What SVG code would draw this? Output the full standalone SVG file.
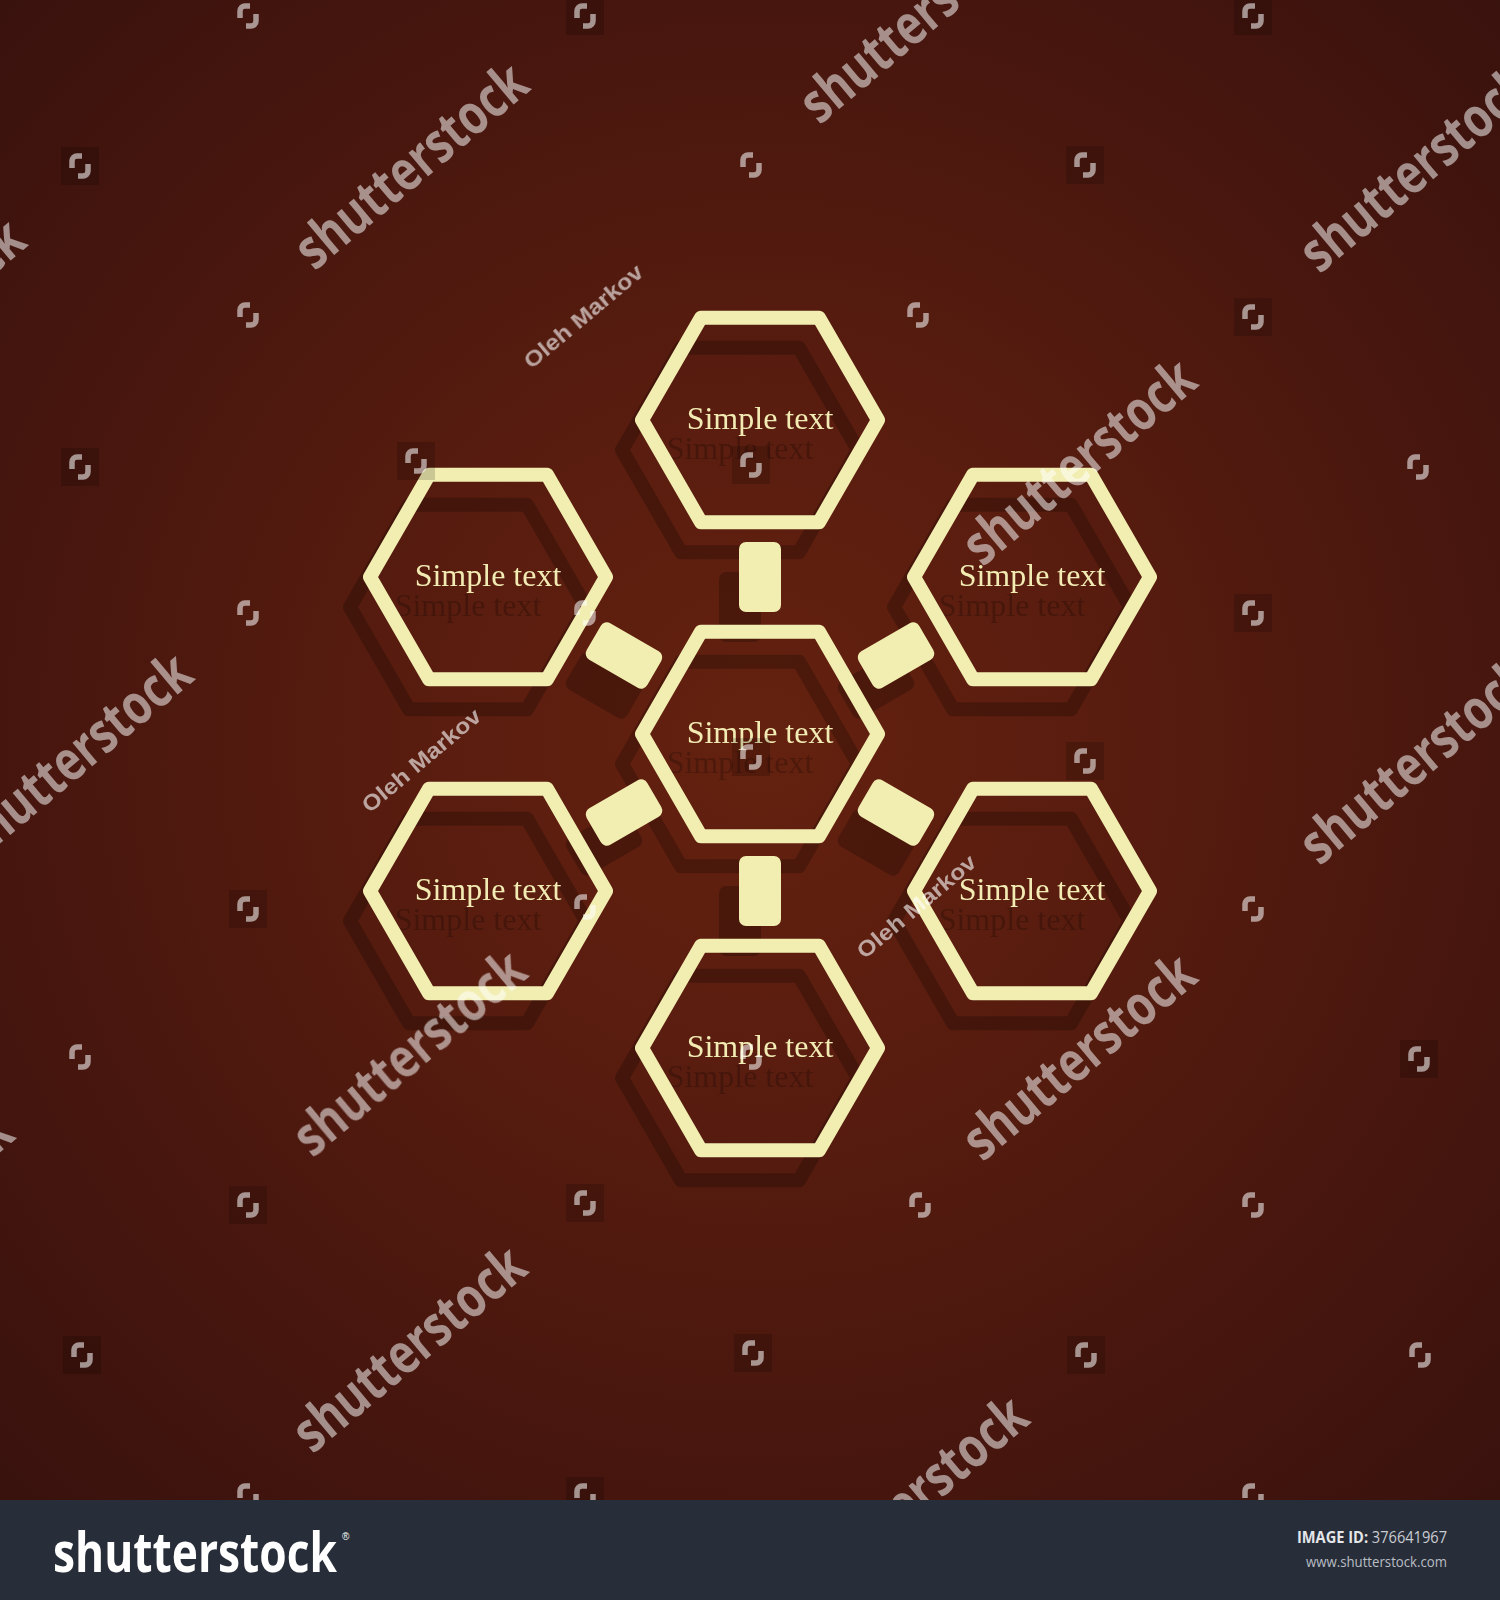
<svg xmlns="http://www.w3.org/2000/svg" xmlns:xlink="http://www.w3.org/1999/xlink" width="1500" height="1600" viewBox="0 0 1500 1600">
  <style>
    .hex { fill: none; stroke: #f2eeb2; stroke-width: 14; stroke-linejoin: round; }
    .shex { fill: none; stroke: #000; stroke-width: 14; stroke-linejoin: round; }
    .lbl { font-family: "Liberation Serif", "Times New Roman", serif; font-size: 32px; fill: #f2ecb4; text-anchor: middle; }
    .slbl { font-family: "Liberation Serif", "Times New Roman", serif; font-size: 32px; fill: #000; text-anchor: middle; }
    .con { fill: #f2eeb2; }
    .scon { fill: #000; }
    .wm { font-family: "Open Sans", "DejaVu Sans", sans-serif; font-weight: 700; font-size: 56px; fill: #ffffff; fill-opacity: 0.52; text-anchor: middle; }
    .wmr { font-family: "Open Sans", "DejaVu Sans", sans-serif; font-size: 10px; fill: #ffffff; fill-opacity: 0.52; }
    .om { font-family: "Liberation Sans", Arial, sans-serif; font-weight: 700; font-size: 22px; fill: #ffffff; fill-opacity: 0.6; text-anchor: middle; }
    .icb { fill: #000; fill-opacity: 0.16; }
    .icp { fill: none; stroke: #ffffff; stroke-opacity: 0.55; stroke-width: 5.5; }
  </style>
  <defs>
    <radialGradient id="bg" gradientUnits="userSpaceOnUse" cx="760" cy="740" r="1050">
      <stop offset="0" stop-color="#64210f"/>
      <stop offset="0.3" stop-color="#5a1d0f"/>
      <stop offset="0.7" stop-color="#47160e"/>
      <stop offset="1" stop-color="#3a120d"/>
    </radialGradient>
    <polygon id="hexshape" points="118,0 59,102.2 -59,102.2 -118,0 -59,-102.2 59,-102.2"/>
    <rect id="conshape" x="-21" y="-35" width="42" height="70" rx="7" ry="7"/>
    <g id="icon"><path class="icp" d="M-8,1 V-6 A5,5 0 0 1 -3,-11 H2 M8,-3 V4 A5,5 0 0 1 3,9 H-2"/></g>
    <g id="iconbox"><rect class="icb" x="-19" y="-20" width="38" height="38"/><use xlink:href="#icon"/></g>
  </defs>

  <rect id="background" x="0" y="0" width="1500" height="1600" fill="url(#bg)"/>

  <!-- shadows -->
  <g id="shadows" opacity="0.22" transform="translate(-20,30)">
    <use xlink:href="#hexshape" class="shex" x="760" y="420"/>
    <use xlink:href="#hexshape" class="shex" x="760" y="734"/>
    <use xlink:href="#hexshape" class="shex" x="760" y="1048"/>
    <use xlink:href="#hexshape" class="shex" x="488" y="577"/>
    <use xlink:href="#hexshape" class="shex" x="1032" y="577"/>
    <use xlink:href="#hexshape" class="shex" x="488" y="891"/>
    <use xlink:href="#hexshape" class="shex" x="1032" y="891"/>
    <use xlink:href="#conshape" class="scon" transform="translate(760,577)"/>
    <use xlink:href="#conshape" class="scon" transform="translate(760,891)"/>
    <use xlink:href="#conshape" class="scon" transform="translate(624,655.5) rotate(-60)"/>
    <use xlink:href="#conshape" class="scon" transform="translate(896,655.5) rotate(60)"/>
    <use xlink:href="#conshape" class="scon" transform="translate(624,812.5) rotate(60)"/>
    <use xlink:href="#conshape" class="scon" transform="translate(896,812.5) rotate(-60)"/>
    <text class="slbl" x="760" y="429">Simple text</text>
    <text class="slbl" x="760" y="743">Simple text</text>
    <text class="slbl" x="760" y="1057">Simple text</text>
    <text class="slbl" x="488" y="586">Simple text</text>
    <text class="slbl" x="1032" y="586">Simple text</text>
    <text class="slbl" x="488" y="900">Simple text</text>
    <text class="slbl" x="1032" y="900">Simple text</text>
  </g>

  <!-- connectors -->
  <g id="connectors">
    <use xlink:href="#conshape" class="con" transform="translate(760,577)"/>
    <use xlink:href="#conshape" class="con" transform="translate(760,891)"/>
    <use xlink:href="#conshape" class="con" transform="translate(624,655.5) rotate(-60)"/>
    <use xlink:href="#conshape" class="con" transform="translate(896,655.5) rotate(60)"/>
    <use xlink:href="#conshape" class="con" transform="translate(624,812.5) rotate(60)"/>
    <use xlink:href="#conshape" class="con" transform="translate(896,812.5) rotate(-60)"/>
  </g>

  <!-- nodes -->
  <g id="node-top"><use xlink:href="#hexshape" class="hex" x="760" y="420"/><text class="lbl" x="760" y="429">Simple text</text></g>
  <g id="node-center"><use xlink:href="#hexshape" class="hex" x="760" y="734"/><text class="lbl" x="760" y="743">Simple text</text></g>
  <g id="node-bottom"><use xlink:href="#hexshape" class="hex" x="760" y="1048"/><text class="lbl" x="760" y="1057">Simple text</text></g>
  <g id="node-upper-left"><use xlink:href="#hexshape" class="hex" x="488" y="577"/><text class="lbl" x="488" y="586">Simple text</text></g>
  <g id="node-upper-right"><use xlink:href="#hexshape" class="hex" x="1032" y="577"/><text class="lbl" x="1032" y="586">Simple text</text></g>
  <g id="node-lower-left"><use xlink:href="#hexshape" class="hex" x="488" y="891"/><text class="lbl" x="488" y="900">Simple text</text></g>
  <g id="node-lower-right"><use xlink:href="#hexshape" class="hex" x="1032" y="891"/><text class="lbl" x="1032" y="900">Simple text</text></g>

  <!-- watermark icons -->
  <g id="watermark-icons">
    <use xlink:href="#icon" x="248" y="17"/>
    <use xlink:href="#iconbox" x="585" y="17"/>
    <use xlink:href="#iconbox" x="1253" y="17"/>
    <use xlink:href="#iconbox" x="80" y="167"/>
    <use xlink:href="#icon" x="751" y="166"/>
    <use xlink:href="#iconbox" x="1085" y="166"/>
    <use xlink:href="#icon" x="248" y="316"/>
    <use xlink:href="#icon" x="918" y="316"/>
    <use xlink:href="#iconbox" x="1253" y="318"/>
    <use xlink:href="#iconbox" x="80" y="468"/>
    <use xlink:href="#iconbox" x="416" y="462"/>
    <use xlink:href="#iconbox" x="751" y="466"/>
    <use xlink:href="#icon" x="1418" y="468"/>
    <use xlink:href="#icon" x="248" y="614"/>
    <use xlink:href="#icon" x="585" y="614"/>
    <use xlink:href="#iconbox" x="1253" y="614"/>
    <use xlink:href="#iconbox" x="751" y="758"/>
    <use xlink:href="#iconbox" x="1085" y="762"/>
    <use xlink:href="#iconbox" x="248" y="910"/>
    <use xlink:href="#icon" x="585" y="908"/>
    <use xlink:href="#icon" x="1253" y="910"/>
    <use xlink:href="#icon" x="80" y="1058"/>
    <use xlink:href="#icon" x="751" y="1058"/>
    <use xlink:href="#iconbox" x="1419" y="1060"/>
    <use xlink:href="#iconbox" x="248" y="1206"/>
    <use xlink:href="#iconbox" x="585" y="1204"/>
    <use xlink:href="#icon" x="920" y="1206"/>
    <use xlink:href="#icon" x="1253" y="1206"/>
    <use xlink:href="#iconbox" x="82" y="1356"/>
    <use xlink:href="#iconbox" x="753" y="1354"/>
    <use xlink:href="#iconbox" x="1086" y="1356"/>
    <use xlink:href="#icon" x="1420" y="1356"/>
    <use xlink:href="#icon" x="248" y="1497"/>
    <use xlink:href="#iconbox" x="585" y="1497"/>
    <use xlink:href="#icon" x="1253" y="1497"/>
  </g>

  <!-- diagonal watermarks -->
  <g id="watermarks">
    <text class="wm" textLength="284" lengthAdjust="spacingAndGlyphs" transform="translate(413,168) rotate(-40)" x="0" y="16">shutterstock</text>
    <text class="wm" textLength="284" lengthAdjust="spacingAndGlyphs" transform="translate(918,22) rotate(-40)" x="0" y="16">shutterstock</text>
    <text class="wm" textLength="284" lengthAdjust="spacingAndGlyphs" transform="translate(1418,171) rotate(-40)" x="0" y="16">shutterstock</text>
    <text class="wm" textLength="284" lengthAdjust="spacingAndGlyphs" transform="translate(-90,324) rotate(-40)" x="0" y="16">shutterstock</text>
    <text class="wm" textLength="284" lengthAdjust="spacingAndGlyphs" transform="translate(77,758) rotate(-40)" x="0" y="16">shutterstock</text>
    <text class="wm" textLength="284" lengthAdjust="spacingAndGlyphs" transform="translate(1081,464) rotate(-40)" x="0" y="16">shutterstock</text>
    <text class="wm" textLength="284" lengthAdjust="spacingAndGlyphs" transform="translate(1418,763) rotate(-40)" x="0" y="16">shutterstock</text>
    <text class="wm" textLength="284" lengthAdjust="spacingAndGlyphs" transform="translate(411,1055) rotate(-40)" x="0" y="16">shutterstock</text>
    <text class="wm" textLength="284" lengthAdjust="spacingAndGlyphs" transform="translate(1081,1059) rotate(-40)" x="0" y="16">shutterstock</text>
    <text class="wm" textLength="284" lengthAdjust="spacingAndGlyphs" transform="translate(-102,1217) rotate(-40)" x="0" y="16">shutterstock</text>
    <text class="wm" textLength="284" lengthAdjust="spacingAndGlyphs" transform="translate(411,1351) rotate(-40)" x="0" y="16">shutterstock</text>
    <text class="wm" textLength="284" lengthAdjust="spacingAndGlyphs" transform="translate(913,1501) rotate(-40)" x="0" y="16">shutterstock</text>
    <text class="om" textLength="148" lengthAdjust="spacingAndGlyphs" transform="translate(583,316) rotate(-40)" x="0" y="8">Oleh Markov</text>
    <text class="om" textLength="148" lengthAdjust="spacingAndGlyphs" transform="translate(421,760) rotate(-40)" x="0" y="8">Oleh Markov</text>
    <text class="om" textLength="148" lengthAdjust="spacingAndGlyphs" transform="translate(916,906) rotate(-40)" x="0" y="8">Oleh Markov</text>
  </g>

  <!-- bottom bar -->
  <g id="footer">
    <rect x="0" y="1500" width="1500" height="100" fill="#282e39"/>
    <text x="53" y="1572" font-family="'Open Sans', 'DejaVu Sans', sans-serif" font-weight="700" font-size="56" fill="#ffffff" textLength="284" lengthAdjust="spacingAndGlyphs">shutterstock</text>
    <text x="342" y="1540" font-family="'Liberation Sans', sans-serif" font-size="10" fill="#ffffff">®</text>
    <text x="1447" y="1543" font-family="'Open Sans', 'DejaVu Sans', sans-serif" font-size="16" fill="#e4e6ea" text-anchor="end" textLength="150" lengthAdjust="spacingAndGlyphs"><tspan font-weight="700">IMAGE ID:</tspan><tspan fill="#c9ccd2"> 376641967</tspan></text>
    <text x="1447" y="1567" font-family="'Open Sans', 'DejaVu Sans', sans-serif" font-size="15" fill="#b9bdc4" text-anchor="end" textLength="141" lengthAdjust="spacingAndGlyphs">www.shutterstock.com</text>
  </g>
</svg>
